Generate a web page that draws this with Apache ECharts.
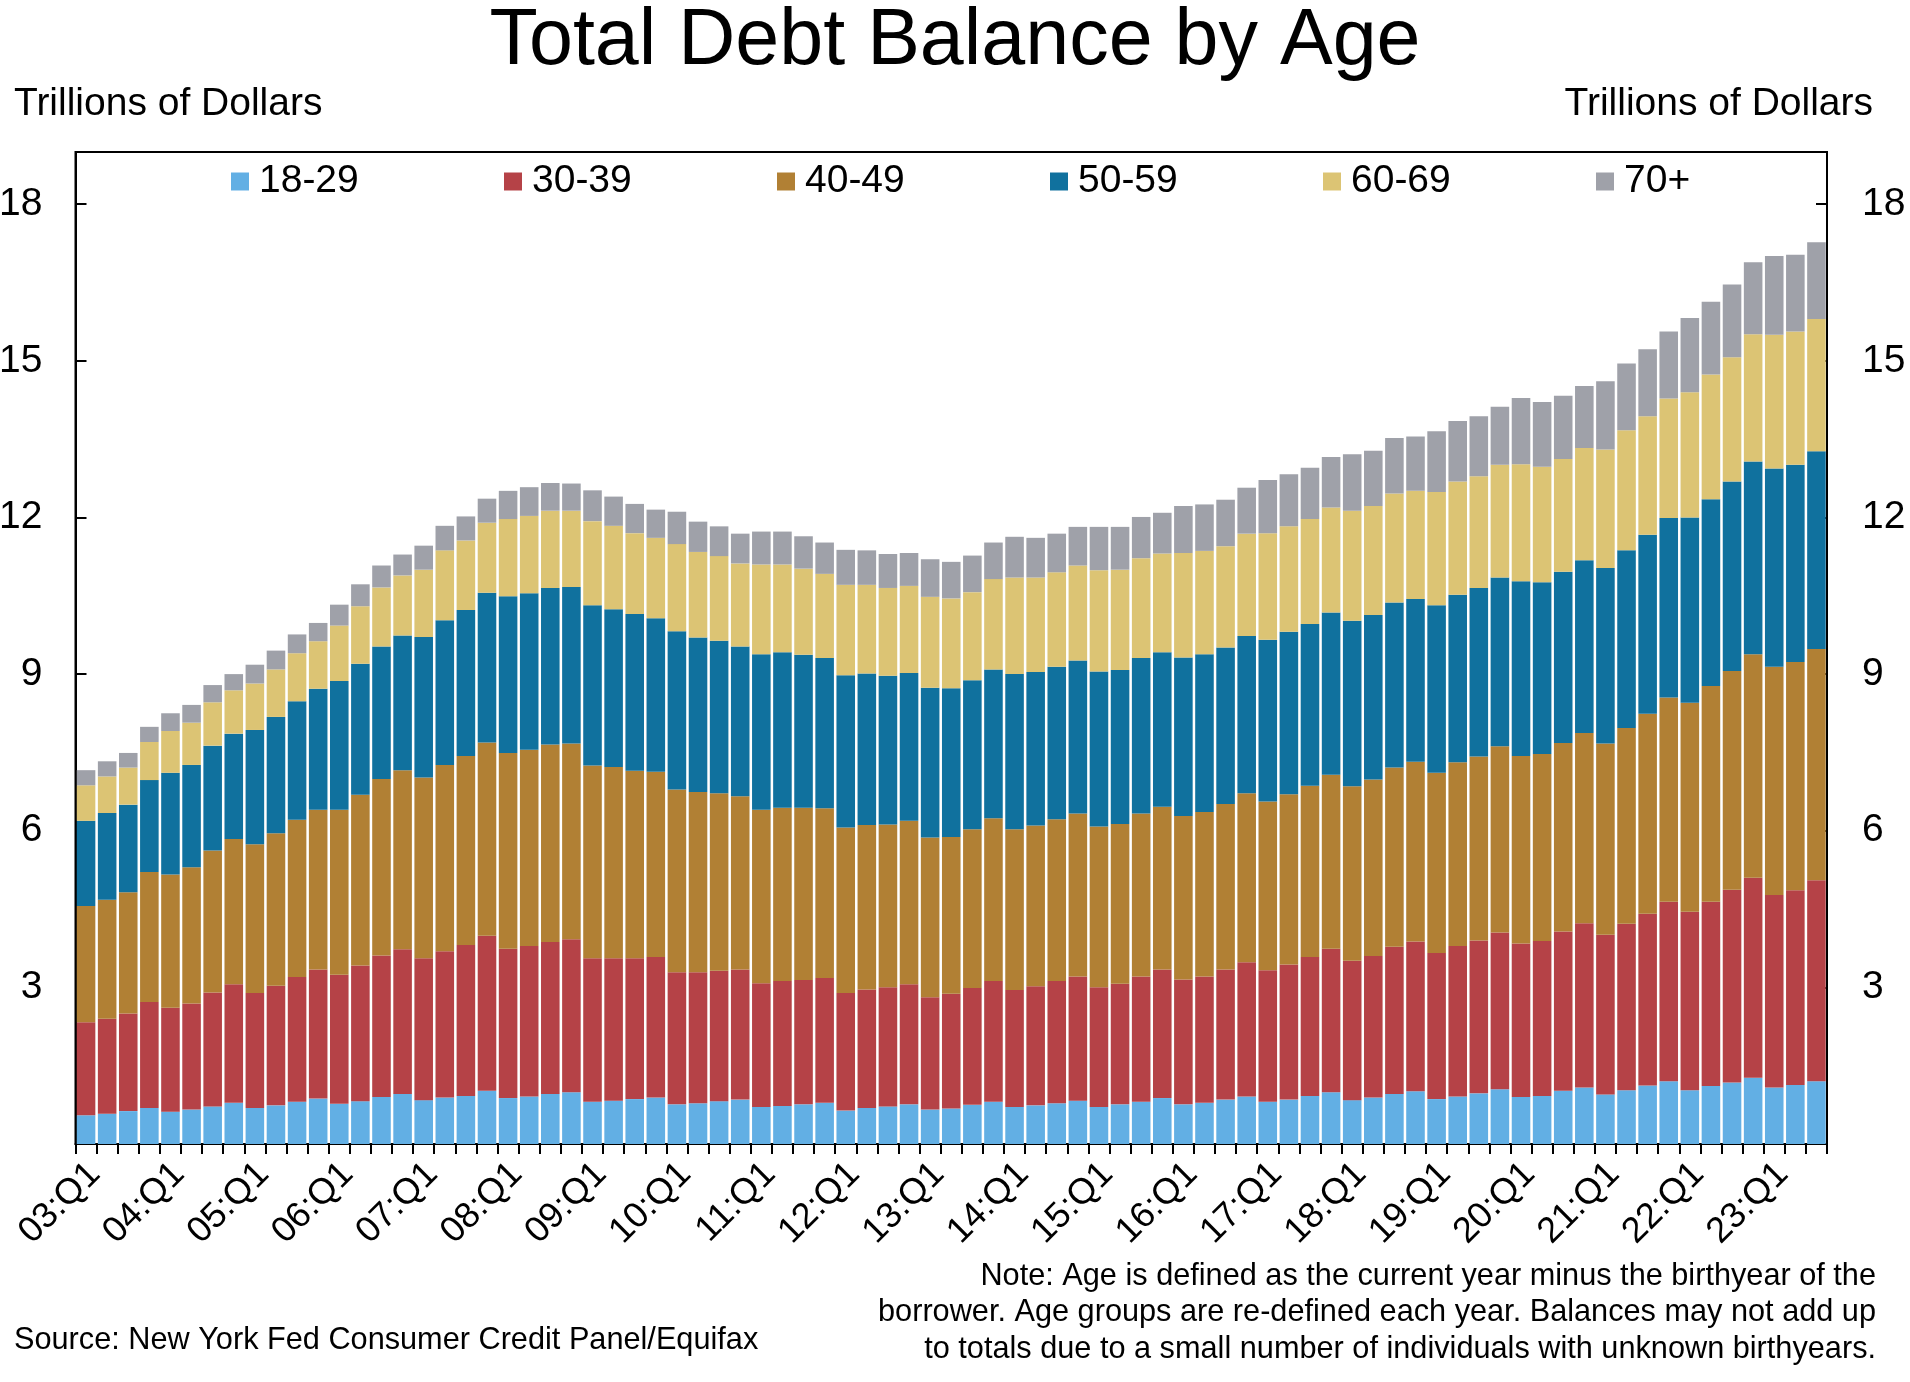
<!DOCTYPE html>
<html>
<head>
<meta charset="utf-8">
<script src="https://cdn.jsdelivr.net/npm/echarts@6/dist/echarts.min.js"></script>
<style>
html,body{margin:0;padding:0;background:#fff;}
#chart{width:1910px;height:1382px;}
</style>
</head>
<body>
<div id="chart"></div>
<script>
// ---- Data (trillions of dollars), 2003:Q1 .. 2023:Q3 ----
const years = ['03','04','05','06','07','08','09','10','11','12','13','14','15','16','17','18','19','20','21','22','23'];
const quarters = ['Q1','Q2','Q3','Q4'];
const categories = [];
years.forEach(y => quarters.forEach(q => categories.push(y + ':' + q)));
categories.length = 83; // through 23:Q3

const seriesNames = ['18-29', '30-39', '40-49', '50-59', '60-69', '70+'];

const age18_29 = [
  0.55,0.58,0.63,0.69,0.62,0.66,0.72,0.79,0.69,0.74,0.81,0.87,0.77,0.82,
  0.90,0.96,0.84,0.89,0.92,1.02,0.88,0.91,0.96,0.99,0.81,0.83,0.86,0.89,
  0.76,0.78,0.82,0.85,0.71,0.73,0.76,0.79,0.64,0.69,0.72,0.76,0.66,0.68,
  0.75,0.81,0.71,0.74,0.78,0.83,0.71,0.76,0.81,0.88,0.76,0.79,0.85,0.91,
  0.81,0.85,0.92,0.99,0.84,0.89,0.96,1.01,0.86,0.91,0.97,1.05,0.90,0.92,
  1.02,1.08,0.95,1.03,1.12,1.20,1.03,1.11,1.18,1.27,1.08,1.13,1.20
];
const age30_39 = [
  1.78,1.82,1.87,2.03,1.99,2.03,2.18,2.27,2.20,2.29,2.39,2.47,2.47,2.60,
  2.71,2.77,2.72,2.80,2.89,2.97,2.86,2.88,2.91,2.93,2.75,2.73,2.70,2.69,
  2.53,2.51,2.50,2.49,2.37,2.39,2.38,2.39,2.25,2.27,2.28,2.30,2.15,2.20,
  2.24,2.31,2.24,2.28,2.34,2.38,2.29,2.31,2.40,2.46,2.39,2.42,2.49,2.57,
  2.52,2.59,2.66,2.75,2.67,2.71,2.82,2.87,2.80,2.88,2.93,3.00,2.94,2.97,
  3.05,3.15,3.06,3.19,3.29,3.44,3.42,3.53,3.69,3.83,3.69,3.73,3.85
];
const age40_49 = [
  2.23,2.28,2.32,2.49,2.55,2.61,2.72,2.78,2.85,2.92,3.01,3.06,3.16,3.27,
  3.38,3.43,3.46,3.57,3.62,3.70,3.75,3.76,3.78,3.75,3.69,3.66,3.59,3.55,
  3.50,3.45,3.40,3.32,3.32,3.32,3.30,3.25,3.17,3.15,3.12,3.13,3.06,3.00,
  3.04,3.12,3.08,3.08,3.10,3.12,3.08,3.06,3.12,3.12,3.13,3.15,3.17,3.24,
  3.23,3.26,3.28,3.33,3.34,3.38,3.43,3.44,3.45,3.52,3.52,3.57,3.59,3.58,
  3.61,3.64,3.66,3.75,3.83,3.91,4.00,4.13,4.19,4.28,4.37,4.37,4.43
];
const age50_59 = [
  1.63,1.66,1.68,1.76,1.95,1.96,2.01,2.02,2.19,2.23,2.27,2.32,2.47,2.51,
  2.54,2.58,2.69,2.77,2.80,2.87,3.00,3.00,3.00,3.00,3.07,3.02,3.00,2.94,
  3.03,2.96,2.92,2.87,2.98,2.98,2.93,2.88,2.92,2.90,2.85,2.83,2.87,2.85,
  2.85,2.85,2.97,2.94,2.92,2.93,2.97,2.95,2.98,2.96,3.04,3.02,3.00,3.01,
  3.10,3.11,3.10,3.11,3.17,3.15,3.16,3.12,3.21,3.21,3.23,3.23,3.35,3.29,
  3.28,3.31,3.36,3.40,3.43,3.44,3.55,3.58,3.63,3.69,3.80,3.78,3.79
];
const age60_69 = [
  0.68,0.70,0.71,0.73,0.80,0.81,0.83,0.83,0.89,0.91,0.92,0.91,1.06,1.10,
  1.13,1.15,1.29,1.34,1.33,1.34,1.48,1.48,1.48,1.46,1.61,1.60,1.55,1.54,
  1.67,1.64,1.62,1.59,1.72,1.68,1.65,1.61,1.73,1.70,1.68,1.67,1.74,1.72,
  1.69,1.73,1.85,1.81,1.81,1.82,1.94,1.92,1.91,1.89,2.00,1.98,1.94,1.96,
  2.04,2.02,2.01,2.01,2.11,2.09,2.09,2.07,2.17,2.17,2.14,2.16,2.24,2.21,
  2.16,2.15,2.27,2.30,2.27,2.29,2.40,2.39,2.38,2.44,2.56,2.55,2.53
];
const age70plus = [
  0.29,0.29,0.28,0.29,0.34,0.34,0.33,0.31,0.36,0.36,0.36,0.35,0.40,0.42,
  0.42,0.40,0.46,0.47,0.46,0.46,0.54,0.55,0.53,0.52,0.59,0.56,0.56,0.54,
  0.62,0.58,0.57,0.57,0.63,0.63,0.62,0.60,0.67,0.66,0.65,0.63,0.72,0.70,
  0.70,0.70,0.78,0.76,0.74,0.74,0.83,0.82,0.79,0.78,0.90,0.89,0.89,0.88,
  1.02,1.00,0.98,0.97,1.08,1.06,1.06,1.04,1.16,1.16,1.15,1.11,1.27,1.24,
  1.21,1.19,1.31,1.28,1.28,1.28,1.42,1.39,1.39,1.38,1.51,1.47,1.47
];
const yTicks = [3, 6, 9, 12, 15, 18];

const seriesData = [age18_29, age30_39, age40_49, age50_59, age60_69, age70plus];
const colors = ['#62AFE4', '#B54247', '#B18034', '#10719E', '#DCC474', '#9FA1A9'];
const FONT = '"Liberation Sans", Arial, Helvetica, sans-serif';

const chart = echarts.init(document.getElementById('chart'), null, {renderer: 'canvas'});

const yLabelFmt = v => (yTicks.indexOf(v) >= 0 ? String(v) : '');

const yAxisCommon = {
  type: 'value', min: 0, max: 19, interval: 3,
  axisLine: {show: true, lineStyle: {color: '#000', width: 2}},
  axisTick: {show: true, inside: true, length: 11, lineStyle: {color: '#000', width: 2}},
  splitLine: {show: false},
  axisLabel: {color: '#000', fontSize: 39, fontFamily: FONT, formatter: yLabelFmt}
};

// one legend block per series so items sit at an even pitch
const legends = seriesNames.map((name, i) => ({
  data: [name],
  left: 231 + i * 273, top: 162, padding: 0,
  icon: 'rect', itemWidth: 18, itemHeight: 18,
  textStyle: {fontSize: 39, color: '#000', fontFamily: FONT, padding: [0, 0, 0, 5]}
}));

const option = {
  animation: false,
  backgroundColor: '#fff',
  color: colors,
  title: {
    text: 'Total Debt Balance by Age',
    left: 'center', top: 3, padding: 0,
    textStyle: {fontSize: 79, fontWeight: 'normal', color: '#000', fontFamily: FONT}
  },
  legend: legends,
  grid: {
    left: 75.5, right: 83, top: 152, bottom: 238,
    show: true, borderColor: '#000', borderWidth: 2, backgroundColor: 'transparent',
    containLabel: false,
    outerBoundsMode: 'none'
  },
  xAxis: {
    type: 'category',
    data: categories,
    boundaryGap: true,
    axisLine: {show: true, lineStyle: {color: '#000', width: 2}},
    axisTick: {show: true, interval: 0, alignWithLabel: false, length: 10, lineStyle: {color: '#000', width: 2}},
    axisLabel: {interval: 3, rotate: 45, margin: 16, verticalAlign: 'top', lineHeight: 24, color: '#000', fontSize: 36, fontFamily: FONT}
  },
  yAxis: [
    Object.assign({}, yAxisCommon, {position: 'left', axisLabel: Object.assign({}, yAxisCommon.axisLabel, {margin: 33})}),
    Object.assign({}, yAxisCommon, {position: 'right', axisLabel: Object.assign({}, yAxisCommon.axisLabel, {margin: 35})})
  ],
  series: seriesNames.map((name, i) => ({
    name: name,
    type: 'bar',
    stack: 'total',
    yAxisIndex: 0,
    barCategoryGap: '12%',
    data: seriesData[i],
    itemStyle: {color: colors[i]}
  })),
  graphic: [
    {type: 'text', style: {text: 'Trillions of Dollars', x: 14, y: 104, align: 'left', verticalAlign: 'middle', font: '39px ' + FONT, fill: '#000'}},
    {type: 'text', style: {text: 'Trillions of Dollars', x: 1873, y: 104, align: 'right', verticalAlign: 'middle', font: '39px ' + FONT, fill: '#000'}},
    {type: 'text', style: {
      text: 'Note: Age is defined as the current year minus the birthyear of the\nborrower. Age groups are re-defined each year. Balances may not add up\nto totals due to a small number of individuals with unknown birthyears.',
      x: 1876, y: 1313, align: 'right', verticalAlign: 'middle', lineHeight: 36.5,
      font: '30.7px ' + FONT, fill: '#000'}},
    {type: 'text', style: {text: 'Source: New York Fed Consumer Credit Panel/Equifax', x: 14, y: 1341, align: 'left', verticalAlign: 'middle', font: '30.7px ' + FONT, fill: '#000'}}
  ]
};

chart.setOption(option);
</script>
</body>
</html>
